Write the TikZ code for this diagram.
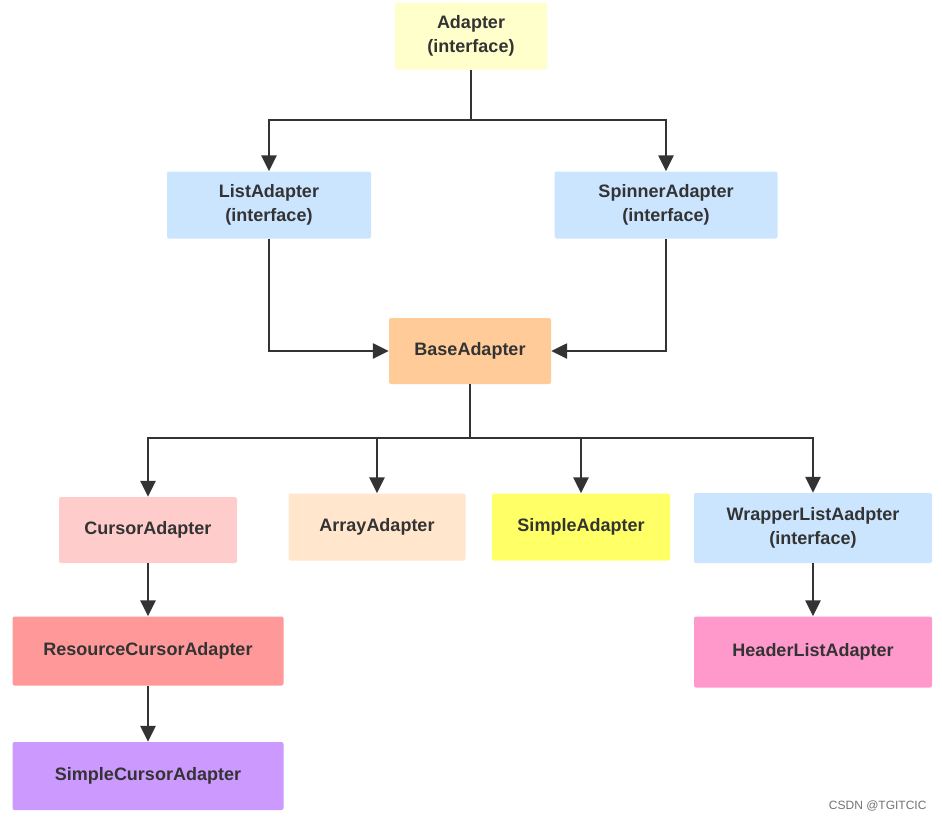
\documentclass[tikz,border=0pt]{standalone}
\usepackage{fontspec}
\setmainfont{Liberation Sans}
\usetikzlibrary{arrows.meta}
\definecolor{tx}{HTML}{333333}
\begin{document}
\begin{tikzpicture}[x=1pt,y=-1pt,
 box/.style={rounded corners=2pt,draw=none,text=tx,font=\bfseries\fontsize{18}{24}\selectfont,align=center,minimum height=67pt,inner sep=0pt},
 ar/.style={draw=black!80,line width=2.5pt,-{Triangle[length=16pt,width=15pt]}},
 ln/.style={draw=black!80,line width=2.5pt}]
\useasboundingbox (0,0) rectangle (942,820);
\fill[white] (0,0) rectangle (942,820);
\node[box,fill={rgb,255:red,255;green,255;blue,204},minimum width=152pt] (ad) at (471,36) {Adapter\\(interface)};
\node[box,fill={rgb,255:red,204;green,229;blue,255},minimum width=204pt] (la) at (269,205) {ListAdapter\\(interface)};
\node[box,fill={rgb,255:red,204;green,229;blue,255},minimum width=223pt] (sa) at (666,205) {SpinnerAdapter\\(interface)};
\node[box,fill={rgb,255:red,255;green,204;blue,153},minimum width=162pt,minimum height=66pt] (ba) at (470,351) {BaseAdapter};
\node[box,fill={rgb,255:red,255;green,204;blue,204},minimum width=178pt,minimum height=66pt] (ca) at (148,530) {CursorAdapter};
\node[box,fill={rgb,255:red,255;green,230;blue,204},minimum width=177pt] (arr) at (377,527) {ArrayAdapter};
\node[box,fill={rgb,255:red,255;green,255;blue,102},minimum width=178pt] (si) at (581,527) {SimpleAdapter};
\node[box,fill={rgb,255:red,204;green,229;blue,255},minimum width=238pt,minimum height=70pt] (wl) at (813,528) {WrapperListAadpter\\(interface)};
\node[box,fill={rgb,255:red,255;green,153;blue,153},minimum width=271pt,minimum height=69pt] (rc) at (148,651) {ResourceCursorAdapter};
\node[box,fill={rgb,255:red,204;green,153;blue,255},minimum width=271pt,minimum height=68pt] (sc) at (148,776) {SimpleCursorAdapter};
\node[box,fill={rgb,255:red,255;green,153;blue,204},minimum width=238pt,minimum height=71pt] (hl) at (813,652) {HeaderListAdapter};
\node[text=black!55,font=\fontsize{12}{14}\selectfont,anchor=east] (wm) at (930,806) {CSDN @TGITCIC};
\coordinate (j1) at (471,120);
\coordinate (j2) at (470,438);
\draw[ln] (ad.south) -- (j1);
\draw[ar] (j1) -| (la.north);
\draw[ar] (j1) -| (sa.north);
\draw[ar] (la.south) |- (ba.west);
\draw[ar] (sa.south) |- (ba.east);
\draw[ln] (ba.south) -- (j2);
\draw[ar] (j2) -| (ca.north);
\draw[ar] (j2) -| (arr.north);
\draw[ar] (j2) -| (si.north);
\draw[ar] (j2) -| (wl.north);
\draw[ar] (ca.south) -- (rc.north);
\draw[ar] (rc.south) -- (sc.north);
\draw[ar] (wl.south) -- (hl.north);
\end{tikzpicture}
\end{document}
